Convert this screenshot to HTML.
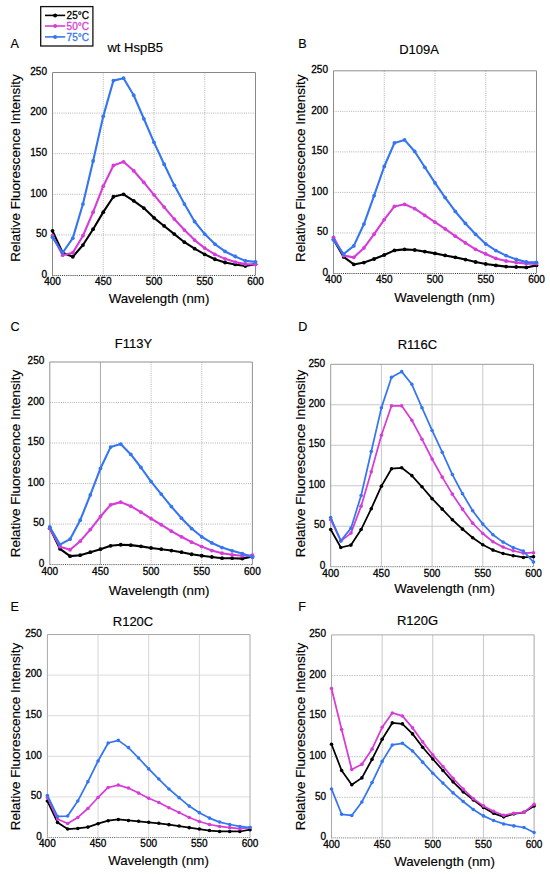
<!DOCTYPE html>
<html><head><meta charset="utf-8"><title>Fluorescence spectra</title>
<style>
html,body{margin:0;padding:0;background:#fff;}
body{width:550px;height:874px;overflow:hidden;}
svg{display:block;font-family:"Liberation Sans", sans-serif;}
text{stroke:#000;stroke-width:0.15px;}
.t{stroke-width:0.3px;}
.lk,.lp,.lb{stroke-width:0.3px;}
.lp{stroke:#d63cd8;}
.lb{stroke:#3576f0;}
</style></head><body>
<svg width="550" height="874" viewBox="0 0 550 874" fill="#000">
<rect width="550" height="874" fill="#fff"/>
<line x1="52.5" y1="234.9" x2="255.5" y2="234.9" stroke="#a8a8a8" stroke-width="0.9" stroke-dasharray="1 1.2"/>
<line x1="52.5" y1="194.3" x2="255.5" y2="194.3" stroke="#a8a8a8" stroke-width="0.9" stroke-dasharray="1 1.2"/>
<line x1="52.5" y1="153.7" x2="255.5" y2="153.7" stroke="#a8a8a8" stroke-width="0.9" stroke-dasharray="1 1.2"/>
<line x1="52.5" y1="113.1" x2="255.5" y2="113.1" stroke="#a8a8a8" stroke-width="0.9" stroke-dasharray="1 1.2"/>
<line x1="103.25" y1="72.5" x2="103.25" y2="275.5" stroke="#a8a8a8" stroke-width="0.9" stroke-dasharray="1 1.2"/>
<line x1="154" y1="72.5" x2="154" y2="275.5" stroke="#a8a8a8" stroke-width="0.9" stroke-dasharray="1 1.2"/>
<line x1="204.75" y1="72.5" x2="204.75" y2="275.5" stroke="#a8a8a8" stroke-width="0.9" stroke-dasharray="1 1.2"/>
<path d="M52.5 275.5V72.5H255.5V275.5" fill="none" stroke="#888" stroke-width="1"/>
<line x1="52.5" y1="275.5" x2="255.5" y2="275.5" stroke="#444" stroke-width="1" stroke-dasharray="1 0.9"/>
<polyline points="52.5,230.84 62.65,252.76 72.8,256.82 82.95,245.05 93.1,229.22 103.25,212.16 113.4,196.74 123.55,194.3 133.7,200.8 143.85,208.1 154,217.85 164.15,225.97 174.3,234.09 184.45,242.21 194.6,248.7 204.75,254.39 214.9,259.26 225.05,262.51 235.2,264.46 245.35,266.08 255.5,264.13" fill="none" stroke="#000000" stroke-width="2.1" stroke-linejoin="round"/>
<circle cx="52.5" cy="230.84" r="1.9" fill="#000000"/>
<circle cx="62.65" cy="252.76" r="1.9" fill="#000000"/>
<circle cx="72.8" cy="256.82" r="1.9" fill="#000000"/>
<circle cx="82.95" cy="245.05" r="1.9" fill="#000000"/>
<circle cx="93.1" cy="229.22" r="1.9" fill="#000000"/>
<circle cx="103.25" cy="212.16" r="1.9" fill="#000000"/>
<circle cx="113.4" cy="196.74" r="1.9" fill="#000000"/>
<circle cx="123.55" cy="194.3" r="1.9" fill="#000000"/>
<circle cx="133.7" cy="200.8" r="1.9" fill="#000000"/>
<circle cx="143.85" cy="208.1" r="1.9" fill="#000000"/>
<circle cx="154" cy="217.85" r="1.9" fill="#000000"/>
<circle cx="164.15" cy="225.97" r="1.9" fill="#000000"/>
<circle cx="174.3" cy="234.09" r="1.9" fill="#000000"/>
<circle cx="184.45" cy="242.21" r="1.9" fill="#000000"/>
<circle cx="194.6" cy="248.7" r="1.9" fill="#000000"/>
<circle cx="204.75" cy="254.39" r="1.9" fill="#000000"/>
<circle cx="214.9" cy="259.26" r="1.9" fill="#000000"/>
<circle cx="225.05" cy="262.51" r="1.9" fill="#000000"/>
<circle cx="235.2" cy="264.46" r="1.9" fill="#000000"/>
<circle cx="245.35" cy="266.08" r="1.9" fill="#000000"/>
<circle cx="255.5" cy="264.13" r="1.9" fill="#000000"/>
<polyline points="52.5,235.71 62.65,255.2 72.8,252.76 82.95,235.71 93.1,212.16 103.25,186.18 113.4,165.47 123.55,161.82 133.7,170.75 143.85,182.44 154,194.87 164.15,207.05 174.3,219.07 184.45,230.03 194.6,240.1 204.75,248.05 214.9,254.39 225.05,258.85 235.2,262.1 245.35,264.13 255.5,264.46" fill="none" stroke="#d63cd8" stroke-width="2.1" stroke-linejoin="round"/>
<circle cx="52.5" cy="235.71" r="1.9" fill="#d63cd8"/>
<circle cx="62.65" cy="255.2" r="1.9" fill="#d63cd8"/>
<circle cx="72.8" cy="252.76" r="1.9" fill="#d63cd8"/>
<circle cx="82.95" cy="235.71" r="1.9" fill="#d63cd8"/>
<circle cx="93.1" cy="212.16" r="1.9" fill="#d63cd8"/>
<circle cx="103.25" cy="186.18" r="1.9" fill="#d63cd8"/>
<circle cx="113.4" cy="165.47" r="1.9" fill="#d63cd8"/>
<circle cx="123.55" cy="161.82" r="1.9" fill="#d63cd8"/>
<circle cx="133.7" cy="170.75" r="1.9" fill="#d63cd8"/>
<circle cx="143.85" cy="182.44" r="1.9" fill="#d63cd8"/>
<circle cx="154" cy="194.87" r="1.9" fill="#d63cd8"/>
<circle cx="164.15" cy="207.05" r="1.9" fill="#d63cd8"/>
<circle cx="174.3" cy="219.07" r="1.9" fill="#d63cd8"/>
<circle cx="184.45" cy="230.03" r="1.9" fill="#d63cd8"/>
<circle cx="194.6" cy="240.1" r="1.9" fill="#d63cd8"/>
<circle cx="204.75" cy="248.05" r="1.9" fill="#d63cd8"/>
<circle cx="214.9" cy="254.39" r="1.9" fill="#d63cd8"/>
<circle cx="225.05" cy="258.85" r="1.9" fill="#d63cd8"/>
<circle cx="235.2" cy="262.1" r="1.9" fill="#d63cd8"/>
<circle cx="245.35" cy="264.13" r="1.9" fill="#d63cd8"/>
<circle cx="255.5" cy="264.46" r="1.9" fill="#d63cd8"/>
<polyline points="52.5,237.34 62.65,252.76 72.8,238.15 82.95,204.04 93.1,161.01 103.25,116.35 113.4,80.62 123.55,78.18 133.7,95.24 143.85,118.78 154,142.33 164.15,164.26 174.3,185.37 184.45,204.04 194.6,221.5 204.75,234.09 214.9,244.08 225.05,251.46 235.2,256.5 245.35,260.88 255.5,261.86" fill="none" stroke="#3576f0" stroke-width="2.1" stroke-linejoin="round"/>
<circle cx="52.5" cy="237.34" r="1.9" fill="#3576f0"/>
<circle cx="62.65" cy="252.76" r="1.9" fill="#3576f0"/>
<circle cx="72.8" cy="238.15" r="1.9" fill="#3576f0"/>
<circle cx="82.95" cy="204.04" r="1.9" fill="#3576f0"/>
<circle cx="93.1" cy="161.01" r="1.9" fill="#3576f0"/>
<circle cx="103.25" cy="116.35" r="1.9" fill="#3576f0"/>
<circle cx="113.4" cy="80.62" r="1.9" fill="#3576f0"/>
<circle cx="123.55" cy="78.18" r="1.9" fill="#3576f0"/>
<circle cx="133.7" cy="95.24" r="1.9" fill="#3576f0"/>
<circle cx="143.85" cy="118.78" r="1.9" fill="#3576f0"/>
<circle cx="154" cy="142.33" r="1.9" fill="#3576f0"/>
<circle cx="164.15" cy="164.26" r="1.9" fill="#3576f0"/>
<circle cx="174.3" cy="185.37" r="1.9" fill="#3576f0"/>
<circle cx="184.45" cy="204.04" r="1.9" fill="#3576f0"/>
<circle cx="194.6" cy="221.5" r="1.9" fill="#3576f0"/>
<circle cx="204.75" cy="234.09" r="1.9" fill="#3576f0"/>
<circle cx="214.9" cy="244.08" r="1.9" fill="#3576f0"/>
<circle cx="225.05" cy="251.46" r="1.9" fill="#3576f0"/>
<circle cx="235.2" cy="256.5" r="1.9" fill="#3576f0"/>
<circle cx="245.35" cy="260.88" r="1.9" fill="#3576f0"/>
<circle cx="255.5" cy="261.86" r="1.9" fill="#3576f0"/>
<text x="47" y="277.7" class="t" text-anchor="end" font-size="10">0</text>
<text x="47" y="237.1" class="t" text-anchor="end" font-size="10">50</text>
<text x="47" y="196.5" class="t" text-anchor="end" font-size="10">100</text>
<text x="47" y="155.9" class="t" text-anchor="end" font-size="10">150</text>
<text x="47" y="115.3" class="t" text-anchor="end" font-size="10">200</text>
<text x="47" y="74.7" class="t" text-anchor="end" font-size="10">250</text>
<text x="52.5" y="285.3" class="t" text-anchor="middle" font-size="10">400</text>
<text x="103.25" y="285.3" class="t" text-anchor="middle" font-size="10">450</text>
<text x="154" y="285.3" class="t" text-anchor="middle" font-size="10">500</text>
<text x="204.75" y="285.3" class="t" text-anchor="middle" font-size="10">550</text>
<text x="255.5" y="285.3" class="t" text-anchor="middle" font-size="10">600</text>
<text transform="translate(20.1,168) rotate(-90)" text-anchor="middle" font-size="13.5">Relative Fluorescence Intensity</text>
<text x="159" y="303.2" text-anchor="middle" font-size="13.3">Wavelength (nm)</text>
<text x="135.3" y="52.4" text-anchor="middle" font-size="13">wt HspB5</text>
<text x="10.6" y="47.9" font-size="12.6">A</text>
<line x1="333.5" y1="232.96" x2="536.5" y2="232.96" stroke="#a8a8a8" stroke-width="0.9" stroke-dasharray="1 1.2"/>
<line x1="333.5" y1="192.42" x2="536.5" y2="192.42" stroke="#a8a8a8" stroke-width="0.9" stroke-dasharray="1 1.2"/>
<line x1="333.5" y1="151.88" x2="536.5" y2="151.88" stroke="#a8a8a8" stroke-width="0.9" stroke-dasharray="1 1.2"/>
<line x1="333.5" y1="111.34" x2="536.5" y2="111.34" stroke="#a8a8a8" stroke-width="0.9" stroke-dasharray="1 1.2"/>
<line x1="384.25" y1="70.8" x2="384.25" y2="273.5" stroke="#a8a8a8" stroke-width="0.9" stroke-dasharray="1 1.2"/>
<line x1="435" y1="70.8" x2="435" y2="273.5" stroke="#a8a8a8" stroke-width="0.9" stroke-dasharray="1 1.2"/>
<line x1="485.75" y1="70.8" x2="485.75" y2="273.5" stroke="#a8a8a8" stroke-width="0.9" stroke-dasharray="1 1.2"/>
<path d="M333.5 273.5V70.8H536.5V273.5" fill="none" stroke="#8c8c8c" stroke-width="1"/>
<line x1="333.5" y1="273.5" x2="536.5" y2="273.5" stroke="#444" stroke-width="1" stroke-dasharray="1 0.9"/>
<polyline points="333.5,239.45 343.65,256.96 353.8,264.42 363.95,262.55 374.1,258.99 384.25,255.01 394.4,250.39 404.55,249.34 414.7,249.99 424.85,251.61 435,253.39 445.15,255.42 455.3,257.37 465.45,259.55 475.6,261.99 485.75,264.01 495.9,265.39 506.05,266.61 516.2,267.01 526.35,267.42 536.5,265.39" fill="none" stroke="#000000" stroke-width="2.1" stroke-linejoin="round"/>
<circle cx="333.5" cy="239.45" r="1.9" fill="#000000"/>
<circle cx="343.65" cy="256.96" r="1.9" fill="#000000"/>
<circle cx="353.8" cy="264.42" r="1.9" fill="#000000"/>
<circle cx="363.95" cy="262.55" r="1.9" fill="#000000"/>
<circle cx="374.1" cy="258.99" r="1.9" fill="#000000"/>
<circle cx="384.25" cy="255.01" r="1.9" fill="#000000"/>
<circle cx="394.4" cy="250.39" r="1.9" fill="#000000"/>
<circle cx="404.55" cy="249.34" r="1.9" fill="#000000"/>
<circle cx="414.7" cy="249.99" r="1.9" fill="#000000"/>
<circle cx="424.85" cy="251.61" r="1.9" fill="#000000"/>
<circle cx="435" cy="253.39" r="1.9" fill="#000000"/>
<circle cx="445.15" cy="255.42" r="1.9" fill="#000000"/>
<circle cx="455.3" cy="257.37" r="1.9" fill="#000000"/>
<circle cx="465.45" cy="259.55" r="1.9" fill="#000000"/>
<circle cx="475.6" cy="261.99" r="1.9" fill="#000000"/>
<circle cx="485.75" cy="264.01" r="1.9" fill="#000000"/>
<circle cx="495.9" cy="265.39" r="1.9" fill="#000000"/>
<circle cx="506.05" cy="266.61" r="1.9" fill="#000000"/>
<circle cx="516.2" cy="267.01" r="1.9" fill="#000000"/>
<circle cx="526.35" cy="267.42" r="1.9" fill="#000000"/>
<circle cx="536.5" cy="265.39" r="1.9" fill="#000000"/>
<polyline points="333.5,237.34 343.65,255.66 353.8,257.37 363.95,247.96 374.1,234.18 384.25,219.58 394.4,206.45 404.55,204.34 414.7,208.64 424.85,215.45 435,222.18 445.15,228.91 455.3,236.2 465.45,242.93 475.6,249.34 485.75,253.96 495.9,258.42 506.05,261.01 516.2,262.55 526.35,263.61 536.5,263.61" fill="none" stroke="#d63cd8" stroke-width="2.1" stroke-linejoin="round"/>
<circle cx="333.5" cy="237.34" r="1.9" fill="#d63cd8"/>
<circle cx="343.65" cy="255.66" r="1.9" fill="#d63cd8"/>
<circle cx="353.8" cy="257.37" r="1.9" fill="#d63cd8"/>
<circle cx="363.95" cy="247.96" r="1.9" fill="#d63cd8"/>
<circle cx="374.1" cy="234.18" r="1.9" fill="#d63cd8"/>
<circle cx="384.25" cy="219.58" r="1.9" fill="#d63cd8"/>
<circle cx="394.4" cy="206.45" r="1.9" fill="#d63cd8"/>
<circle cx="404.55" cy="204.34" r="1.9" fill="#d63cd8"/>
<circle cx="414.7" cy="208.64" r="1.9" fill="#d63cd8"/>
<circle cx="424.85" cy="215.45" r="1.9" fill="#d63cd8"/>
<circle cx="435" cy="222.18" r="1.9" fill="#d63cd8"/>
<circle cx="445.15" cy="228.91" r="1.9" fill="#d63cd8"/>
<circle cx="455.3" cy="236.2" r="1.9" fill="#d63cd8"/>
<circle cx="465.45" cy="242.93" r="1.9" fill="#d63cd8"/>
<circle cx="475.6" cy="249.34" r="1.9" fill="#d63cd8"/>
<circle cx="485.75" cy="253.96" r="1.9" fill="#d63cd8"/>
<circle cx="495.9" cy="258.42" r="1.9" fill="#d63cd8"/>
<circle cx="506.05" cy="261.01" r="1.9" fill="#d63cd8"/>
<circle cx="516.2" cy="262.55" r="1.9" fill="#d63cd8"/>
<circle cx="526.35" cy="263.61" r="1.9" fill="#d63cd8"/>
<circle cx="536.5" cy="263.61" r="1.9" fill="#d63cd8"/>
<polyline points="333.5,239.93 343.65,254.04 353.8,245.93 363.95,224.04 374.1,195.66 384.25,166.47 394.4,142.96 404.55,139.88 414.7,151.47 424.85,167.29 435,182.93 445.15,197.53 455.3,211.47 465.45,223.47 475.6,234.34 485.75,243.99 495.9,250.55 506.05,255.58 516.2,259.39 526.35,261.99 536.5,262.39" fill="none" stroke="#3576f0" stroke-width="2.1" stroke-linejoin="round"/>
<circle cx="333.5" cy="239.93" r="1.9" fill="#3576f0"/>
<circle cx="343.65" cy="254.04" r="1.9" fill="#3576f0"/>
<circle cx="353.8" cy="245.93" r="1.9" fill="#3576f0"/>
<circle cx="363.95" cy="224.04" r="1.9" fill="#3576f0"/>
<circle cx="374.1" cy="195.66" r="1.9" fill="#3576f0"/>
<circle cx="384.25" cy="166.47" r="1.9" fill="#3576f0"/>
<circle cx="394.4" cy="142.96" r="1.9" fill="#3576f0"/>
<circle cx="404.55" cy="139.88" r="1.9" fill="#3576f0"/>
<circle cx="414.7" cy="151.47" r="1.9" fill="#3576f0"/>
<circle cx="424.85" cy="167.29" r="1.9" fill="#3576f0"/>
<circle cx="435" cy="182.93" r="1.9" fill="#3576f0"/>
<circle cx="445.15" cy="197.53" r="1.9" fill="#3576f0"/>
<circle cx="455.3" cy="211.47" r="1.9" fill="#3576f0"/>
<circle cx="465.45" cy="223.47" r="1.9" fill="#3576f0"/>
<circle cx="475.6" cy="234.34" r="1.9" fill="#3576f0"/>
<circle cx="485.75" cy="243.99" r="1.9" fill="#3576f0"/>
<circle cx="495.9" cy="250.55" r="1.9" fill="#3576f0"/>
<circle cx="506.05" cy="255.58" r="1.9" fill="#3576f0"/>
<circle cx="516.2" cy="259.39" r="1.9" fill="#3576f0"/>
<circle cx="526.35" cy="261.99" r="1.9" fill="#3576f0"/>
<circle cx="536.5" cy="262.39" r="1.9" fill="#3576f0"/>
<text x="328" y="275.7" class="t" text-anchor="end" font-size="10">0</text>
<text x="328" y="235.16" class="t" text-anchor="end" font-size="10">50</text>
<text x="328" y="194.62" class="t" text-anchor="end" font-size="10">100</text>
<text x="328" y="154.08" class="t" text-anchor="end" font-size="10">150</text>
<text x="328" y="113.54" class="t" text-anchor="end" font-size="10">200</text>
<text x="328" y="73" class="t" text-anchor="end" font-size="10">250</text>
<text x="333.5" y="283.2" class="t" text-anchor="middle" font-size="10">400</text>
<text x="384.25" y="283.2" class="t" text-anchor="middle" font-size="10">450</text>
<text x="435" y="283.2" class="t" text-anchor="middle" font-size="10">500</text>
<text x="485.75" y="283.2" class="t" text-anchor="middle" font-size="10">550</text>
<text x="536.5" y="283.2" class="t" text-anchor="middle" font-size="10">600</text>
<text transform="translate(304.6,168.3) rotate(-90)" text-anchor="middle" font-size="13.5">Relative Fluorescence Intensity</text>
<text x="444.5" y="302" text-anchor="middle" font-size="13.3">Wavelength (nm)</text>
<text x="419" y="54.4" text-anchor="middle" font-size="13">D109A</text>
<text x="298.2" y="47.8" font-size="12.6">B</text>
<line x1="49.8" y1="524.08" x2="252.4" y2="524.08" stroke="#a8a8a8" stroke-width="0.9" stroke-dasharray="1 1.2"/>
<line x1="49.8" y1="483.56" x2="252.4" y2="483.56" stroke="#a8a8a8" stroke-width="0.9" stroke-dasharray="1 1.2"/>
<line x1="49.8" y1="443.04" x2="252.4" y2="443.04" stroke="#a8a8a8" stroke-width="0.9" stroke-dasharray="1 1.2"/>
<line x1="49.8" y1="402.52" x2="252.4" y2="402.52" stroke="#a8a8a8" stroke-width="0.9" stroke-dasharray="1 1.2"/>
<line x1="100.45" y1="362" x2="100.45" y2="564.6" stroke="#a8a8a8" stroke-width="1"/>
<line x1="151.1" y1="362" x2="151.1" y2="564.6" stroke="#a8a8a8" stroke-width="0.9" stroke-dasharray="1 1.2"/>
<line x1="201.75" y1="362" x2="201.75" y2="564.6" stroke="#a8a8a8" stroke-width="0.9" stroke-dasharray="1 1.2"/>
<path d="M49.8 564.6V362H252.4V564.6" fill="none" stroke="#909090" stroke-width="1"/>
<line x1="49.8" y1="564.6" x2="252.4" y2="564.6" stroke="#555" stroke-width="1" stroke-dasharray="1 0.9"/>
<polyline points="49.8,528.13 59.93,548.8 70.06,556.17 80.19,555.2 90.32,552.2 100.45,549.2 110.58,545.8 120.71,544.75 130.84,545.15 140.97,546.37 151.1,547.99 161.23,549.2 171.36,550.58 181.49,552.2 191.62,554.23 201.75,555.77 211.88,556.98 222.01,558.2 232.14,558.2 242.27,558.6 252.4,556.58" fill="none" stroke="#000000" stroke-width="2.1" stroke-linejoin="round"/>
<circle cx="49.8" cy="528.13" r="1.9" fill="#000000"/>
<circle cx="59.93" cy="548.8" r="1.9" fill="#000000"/>
<circle cx="70.06" cy="556.17" r="1.9" fill="#000000"/>
<circle cx="80.19" cy="555.2" r="1.9" fill="#000000"/>
<circle cx="90.32" cy="552.2" r="1.9" fill="#000000"/>
<circle cx="100.45" cy="549.2" r="1.9" fill="#000000"/>
<circle cx="110.58" cy="545.8" r="1.9" fill="#000000"/>
<circle cx="120.71" cy="544.75" r="1.9" fill="#000000"/>
<circle cx="130.84" cy="545.15" r="1.9" fill="#000000"/>
<circle cx="140.97" cy="546.37" r="1.9" fill="#000000"/>
<circle cx="151.1" cy="547.99" r="1.9" fill="#000000"/>
<circle cx="161.23" cy="549.2" r="1.9" fill="#000000"/>
<circle cx="171.36" cy="550.58" r="1.9" fill="#000000"/>
<circle cx="181.49" cy="552.2" r="1.9" fill="#000000"/>
<circle cx="191.62" cy="554.23" r="1.9" fill="#000000"/>
<circle cx="201.75" cy="555.77" r="1.9" fill="#000000"/>
<circle cx="211.88" cy="556.98" r="1.9" fill="#000000"/>
<circle cx="222.01" cy="558.2" r="1.9" fill="#000000"/>
<circle cx="232.14" cy="558.2" r="1.9" fill="#000000"/>
<circle cx="242.27" cy="558.6" r="1.9" fill="#000000"/>
<circle cx="252.4" cy="556.58" r="1.9" fill="#000000"/>
<polyline points="49.8,528.13 59.93,546.77 70.06,549.77 80.19,541.18 90.32,529.59 100.45,516.54 110.58,504.87 120.71,502.12 130.84,506.17 140.97,512.17 151.1,518.65 161.23,524.73 171.36,531.13 181.49,536.8 191.62,542.15 201.75,546.61 211.88,550.58 222.01,553.17 232.14,554.79 242.27,555.77 252.4,555.2" fill="none" stroke="#d63cd8" stroke-width="2.1" stroke-linejoin="round"/>
<circle cx="49.8" cy="528.13" r="1.9" fill="#d63cd8"/>
<circle cx="59.93" cy="546.77" r="1.9" fill="#d63cd8"/>
<circle cx="70.06" cy="549.77" r="1.9" fill="#d63cd8"/>
<circle cx="80.19" cy="541.18" r="1.9" fill="#d63cd8"/>
<circle cx="90.32" cy="529.59" r="1.9" fill="#d63cd8"/>
<circle cx="100.45" cy="516.54" r="1.9" fill="#d63cd8"/>
<circle cx="110.58" cy="504.87" r="1.9" fill="#d63cd8"/>
<circle cx="120.71" cy="502.12" r="1.9" fill="#d63cd8"/>
<circle cx="130.84" cy="506.17" r="1.9" fill="#d63cd8"/>
<circle cx="140.97" cy="512.17" r="1.9" fill="#d63cd8"/>
<circle cx="151.1" cy="518.65" r="1.9" fill="#d63cd8"/>
<circle cx="161.23" cy="524.73" r="1.9" fill="#d63cd8"/>
<circle cx="171.36" cy="531.13" r="1.9" fill="#d63cd8"/>
<circle cx="181.49" cy="536.8" r="1.9" fill="#d63cd8"/>
<circle cx="191.62" cy="542.15" r="1.9" fill="#d63cd8"/>
<circle cx="201.75" cy="546.61" r="1.9" fill="#d63cd8"/>
<circle cx="211.88" cy="550.58" r="1.9" fill="#d63cd8"/>
<circle cx="222.01" cy="553.17" r="1.9" fill="#d63cd8"/>
<circle cx="232.14" cy="554.79" r="1.9" fill="#d63cd8"/>
<circle cx="242.27" cy="555.77" r="1.9" fill="#d63cd8"/>
<circle cx="252.4" cy="555.2" r="1.9" fill="#d63cd8"/>
<polyline points="49.8,526.92 59.93,544.58 70.06,539.15 80.19,520.19 90.32,494.91 100.45,468.49 110.58,447.09 120.71,444.09 130.84,454.47 140.97,467.51 151.1,481.62 161.23,494.1 171.36,506.58 181.49,518.16 191.62,528.54 201.75,536.8 211.88,542.96 222.01,547.58 232.14,550.82 242.27,553.58 252.4,557.23" fill="none" stroke="#3576f0" stroke-width="2.1" stroke-linejoin="round"/>
<circle cx="49.8" cy="526.92" r="1.9" fill="#3576f0"/>
<circle cx="59.93" cy="544.58" r="1.9" fill="#3576f0"/>
<circle cx="70.06" cy="539.15" r="1.9" fill="#3576f0"/>
<circle cx="80.19" cy="520.19" r="1.9" fill="#3576f0"/>
<circle cx="90.32" cy="494.91" r="1.9" fill="#3576f0"/>
<circle cx="100.45" cy="468.49" r="1.9" fill="#3576f0"/>
<circle cx="110.58" cy="447.09" r="1.9" fill="#3576f0"/>
<circle cx="120.71" cy="444.09" r="1.9" fill="#3576f0"/>
<circle cx="130.84" cy="454.47" r="1.9" fill="#3576f0"/>
<circle cx="140.97" cy="467.51" r="1.9" fill="#3576f0"/>
<circle cx="151.1" cy="481.62" r="1.9" fill="#3576f0"/>
<circle cx="161.23" cy="494.1" r="1.9" fill="#3576f0"/>
<circle cx="171.36" cy="506.58" r="1.9" fill="#3576f0"/>
<circle cx="181.49" cy="518.16" r="1.9" fill="#3576f0"/>
<circle cx="191.62" cy="528.54" r="1.9" fill="#3576f0"/>
<circle cx="201.75" cy="536.8" r="1.9" fill="#3576f0"/>
<circle cx="211.88" cy="542.96" r="1.9" fill="#3576f0"/>
<circle cx="222.01" cy="547.58" r="1.9" fill="#3576f0"/>
<circle cx="232.14" cy="550.82" r="1.9" fill="#3576f0"/>
<circle cx="242.27" cy="553.58" r="1.9" fill="#3576f0"/>
<circle cx="252.4" cy="557.23" r="1.9" fill="#3576f0"/>
<text x="44.3" y="566.8" class="t" text-anchor="end" font-size="10">0</text>
<text x="44.3" y="526.28" class="t" text-anchor="end" font-size="10">50</text>
<text x="44.3" y="485.76" class="t" text-anchor="end" font-size="10">100</text>
<text x="44.3" y="445.24" class="t" text-anchor="end" font-size="10">150</text>
<text x="44.3" y="404.72" class="t" text-anchor="end" font-size="10">200</text>
<text x="44.3" y="364.2" class="t" text-anchor="end" font-size="10">250</text>
<text x="49.8" y="574.5" class="t" text-anchor="middle" font-size="10">400</text>
<text x="100.45" y="574.5" class="t" text-anchor="middle" font-size="10">450</text>
<text x="151.1" y="574.5" class="t" text-anchor="middle" font-size="10">500</text>
<text x="201.75" y="574.5" class="t" text-anchor="middle" font-size="10">550</text>
<text x="252.4" y="574.5" class="t" text-anchor="middle" font-size="10">600</text>
<text transform="translate(19.6,463.5) rotate(-90)" text-anchor="middle" font-size="13.5">Relative Fluorescence Intensity</text>
<text x="159.1" y="594.5" text-anchor="middle" font-size="13.3">Wavelength (nm)</text>
<text x="133.5" y="347.7" text-anchor="middle" font-size="13">F113Y</text>
<text x="10.6" y="330.8" font-size="12.6">C</text>
<line x1="330.7" y1="526.22" x2="533.5" y2="526.22" stroke="#c8c8c8" stroke-width="1"/>
<line x1="330.7" y1="485.74" x2="533.5" y2="485.74" stroke="#c8c8c8" stroke-width="1"/>
<line x1="330.7" y1="445.26" x2="533.5" y2="445.26" stroke="#c8c8c8" stroke-width="1"/>
<line x1="330.7" y1="404.78" x2="533.5" y2="404.78" stroke="#c8c8c8" stroke-width="1"/>
<line x1="381.4" y1="364.3" x2="381.4" y2="566.7" stroke="#c8c8c8" stroke-width="1"/>
<line x1="432.1" y1="364.3" x2="432.1" y2="566.7" stroke="#c8c8c8" stroke-width="1"/>
<line x1="482.8" y1="364.3" x2="482.8" y2="566.7" stroke="#c8c8c8" stroke-width="1"/>
<path d="M330.7 566.7V364.3H533.5V566.7" fill="none" stroke="#999" stroke-width="1"/>
<line x1="330.7" y1="566.7" x2="533.5" y2="566.7" stroke="#666" stroke-width="1" stroke-dasharray="1 0.9"/>
<polyline points="330.7,529.54 340.84,547.51 350.98,545.08 361.12,529.54 371.26,508.73 381.4,486.14 391.54,468.74 401.68,467.77 411.82,475.62 421.96,486.79 432.1,498.69 442.24,509.14 452.38,519.74 462.52,529.13 472.66,537.72 482.8,544.76 492.94,550.1 503.08,553.5 513.22,555.69 523.36,557.47 533.5,556.74" fill="none" stroke="#000000" stroke-width="1.75" stroke-linejoin="round"/>
<circle cx="330.7" cy="529.54" r="1.8" fill="#000000"/>
<circle cx="340.84" cy="547.51" r="1.8" fill="#000000"/>
<circle cx="350.98" cy="545.08" r="1.8" fill="#000000"/>
<circle cx="361.12" cy="529.54" r="1.8" fill="#000000"/>
<circle cx="371.26" cy="508.73" r="1.8" fill="#000000"/>
<circle cx="381.4" cy="486.14" r="1.8" fill="#000000"/>
<circle cx="391.54" cy="468.74" r="1.8" fill="#000000"/>
<circle cx="401.68" cy="467.77" r="1.8" fill="#000000"/>
<circle cx="411.82" cy="475.62" r="1.8" fill="#000000"/>
<circle cx="421.96" cy="486.79" r="1.8" fill="#000000"/>
<circle cx="432.1" cy="498.69" r="1.8" fill="#000000"/>
<circle cx="442.24" cy="509.14" r="1.8" fill="#000000"/>
<circle cx="452.38" cy="519.74" r="1.8" fill="#000000"/>
<circle cx="462.52" cy="529.13" r="1.8" fill="#000000"/>
<circle cx="472.66" cy="537.72" r="1.8" fill="#000000"/>
<circle cx="482.8" cy="544.76" r="1.8" fill="#000000"/>
<circle cx="492.94" cy="550.1" r="1.8" fill="#000000"/>
<circle cx="503.08" cy="553.5" r="1.8" fill="#000000"/>
<circle cx="513.22" cy="555.69" r="1.8" fill="#000000"/>
<circle cx="523.36" cy="557.47" r="1.8" fill="#000000"/>
<circle cx="533.5" cy="556.74" r="1.8" fill="#000000"/>
<polyline points="330.7,519.74 340.84,541.12 350.98,533.1 361.12,506.14 371.26,471.81 381.4,435.22 391.54,405.83 401.68,405.83 411.82,420.24 421.96,439.19 432.1,459.02 442.24,477.16 452.38,494.16 462.52,509.14 472.66,523.14 482.8,533.51 492.94,541.76 503.08,547.11 513.22,550.75 523.36,553.1 533.5,552.69" fill="none" stroke="#d63cd8" stroke-width="1.75" stroke-linejoin="round"/>
<circle cx="330.7" cy="519.74" r="1.8" fill="#d63cd8"/>
<circle cx="340.84" cy="541.12" r="1.8" fill="#d63cd8"/>
<circle cx="350.98" cy="533.1" r="1.8" fill="#d63cd8"/>
<circle cx="361.12" cy="506.14" r="1.8" fill="#d63cd8"/>
<circle cx="371.26" cy="471.81" r="1.8" fill="#d63cd8"/>
<circle cx="381.4" cy="435.22" r="1.8" fill="#d63cd8"/>
<circle cx="391.54" cy="405.83" r="1.8" fill="#d63cd8"/>
<circle cx="401.68" cy="405.83" r="1.8" fill="#d63cd8"/>
<circle cx="411.82" cy="420.24" r="1.8" fill="#d63cd8"/>
<circle cx="421.96" cy="439.19" r="1.8" fill="#d63cd8"/>
<circle cx="432.1" cy="459.02" r="1.8" fill="#d63cd8"/>
<circle cx="442.24" cy="477.16" r="1.8" fill="#d63cd8"/>
<circle cx="452.38" cy="494.16" r="1.8" fill="#d63cd8"/>
<circle cx="462.52" cy="509.14" r="1.8" fill="#d63cd8"/>
<circle cx="472.66" cy="523.14" r="1.8" fill="#d63cd8"/>
<circle cx="482.8" cy="533.51" r="1.8" fill="#d63cd8"/>
<circle cx="492.94" cy="541.76" r="1.8" fill="#d63cd8"/>
<circle cx="503.08" cy="547.11" r="1.8" fill="#d63cd8"/>
<circle cx="513.22" cy="550.75" r="1.8" fill="#d63cd8"/>
<circle cx="523.36" cy="553.1" r="1.8" fill="#d63cd8"/>
<circle cx="533.5" cy="552.69" r="1.8" fill="#d63cd8"/>
<polyline points="330.7,517.56 340.84,540.71 350.98,528.16 361.12,495.54 371.26,451.57 381.4,407.86 391.54,377.25 401.68,371.67 411.82,384.3 421.96,407.69 432.1,430.44 442.24,452.22 452.38,474.57 462.52,493.76 472.66,510.76 482.8,524.12 492.94,534.72 503.08,542.09 513.22,547.51 523.36,551.07 533.5,562.09" fill="none" stroke="#3576f0" stroke-width="1.75" stroke-linejoin="round"/>
<circle cx="330.7" cy="517.56" r="1.8" fill="#3576f0"/>
<circle cx="340.84" cy="540.71" r="1.8" fill="#3576f0"/>
<circle cx="350.98" cy="528.16" r="1.8" fill="#3576f0"/>
<circle cx="361.12" cy="495.54" r="1.8" fill="#3576f0"/>
<circle cx="371.26" cy="451.57" r="1.8" fill="#3576f0"/>
<circle cx="381.4" cy="407.86" r="1.8" fill="#3576f0"/>
<circle cx="391.54" cy="377.25" r="1.8" fill="#3576f0"/>
<circle cx="401.68" cy="371.67" r="1.8" fill="#3576f0"/>
<circle cx="411.82" cy="384.3" r="1.8" fill="#3576f0"/>
<circle cx="421.96" cy="407.69" r="1.8" fill="#3576f0"/>
<circle cx="432.1" cy="430.44" r="1.8" fill="#3576f0"/>
<circle cx="442.24" cy="452.22" r="1.8" fill="#3576f0"/>
<circle cx="452.38" cy="474.57" r="1.8" fill="#3576f0"/>
<circle cx="462.52" cy="493.76" r="1.8" fill="#3576f0"/>
<circle cx="472.66" cy="510.76" r="1.8" fill="#3576f0"/>
<circle cx="482.8" cy="524.12" r="1.8" fill="#3576f0"/>
<circle cx="492.94" cy="534.72" r="1.8" fill="#3576f0"/>
<circle cx="503.08" cy="542.09" r="1.8" fill="#3576f0"/>
<circle cx="513.22" cy="547.51" r="1.8" fill="#3576f0"/>
<circle cx="523.36" cy="551.07" r="1.8" fill="#3576f0"/>
<circle cx="533.5" cy="562.09" r="1.8" fill="#3576f0"/>
<text x="325.2" y="568.9" class="t" text-anchor="end" font-size="10">0</text>
<text x="325.2" y="528.42" class="t" text-anchor="end" font-size="10">50</text>
<text x="325.2" y="487.94" class="t" text-anchor="end" font-size="10">100</text>
<text x="325.2" y="447.46" class="t" text-anchor="end" font-size="10">150</text>
<text x="325.2" y="406.98" class="t" text-anchor="end" font-size="10">200</text>
<text x="325.2" y="366.5" class="t" text-anchor="end" font-size="10">250</text>
<text x="330.7" y="576.5" class="t" text-anchor="middle" font-size="10">400</text>
<text x="381.4" y="576.5" class="t" text-anchor="middle" font-size="10">450</text>
<text x="432.1" y="576.5" class="t" text-anchor="middle" font-size="10">500</text>
<text x="482.8" y="576.5" class="t" text-anchor="middle" font-size="10">550</text>
<text x="533.5" y="576.5" class="t" text-anchor="middle" font-size="10">600</text>
<text transform="translate(304.6,463.5) rotate(-90)" text-anchor="middle" font-size="13.5">Relative Fluorescence Intensity</text>
<text x="444.5" y="593.2" text-anchor="middle" font-size="13.3">Wavelength (nm)</text>
<text x="417.4" y="349.1" text-anchor="middle" font-size="13">R116C</text>
<text x="298.2" y="330.8" font-size="12.6">D</text>
<line x1="47.4" y1="796.9" x2="250" y2="796.9" stroke="#dcdcdc" stroke-width="1"/>
<line x1="47.4" y1="756.3" x2="250" y2="756.3" stroke="#dcdcdc" stroke-width="1"/>
<line x1="47.4" y1="715.7" x2="250" y2="715.7" stroke="#dcdcdc" stroke-width="1"/>
<line x1="47.4" y1="675.1" x2="250" y2="675.1" stroke="#dcdcdc" stroke-width="1"/>
<line x1="98.05" y1="634.5" x2="98.05" y2="837.5" stroke="#d6d6d6" stroke-width="1"/>
<line x1="148.7" y1="634.5" x2="148.7" y2="837.5" stroke="#d6d6d6" stroke-width="1"/>
<line x1="199.35" y1="634.5" x2="199.35" y2="837.5" stroke="#d6d6d6" stroke-width="1"/>
<path d="M47.4 837.5V634.5H250V837.5" fill="none" stroke="#a8a8a8" stroke-width="1"/>
<line x1="47.4" y1="837.5" x2="250" y2="837.5" stroke="#777" stroke-width="1" stroke-dasharray="1 0.9"/>
<polyline points="47.4,801.04 57.53,822.48 67.66,829.06 77.79,828.49 87.92,827.11 98.05,823.7 108.18,820.69 118.31,819.47 128.44,820.45 138.57,821.26 148.7,822.32 158.83,823.29 168.96,824.67 179.09,826.05 189.22,827.67 199.35,829.06 209.48,830.52 219.61,831.49 229.74,831.49 239.87,831.49 250,829.7" fill="none" stroke="#000000" stroke-width="1.75" stroke-linejoin="round"/>
<circle cx="47.4" cy="801.04" r="1.8" fill="#000000"/>
<circle cx="57.53" cy="822.48" r="1.8" fill="#000000"/>
<circle cx="67.66" cy="829.06" r="1.8" fill="#000000"/>
<circle cx="77.79" cy="828.49" r="1.8" fill="#000000"/>
<circle cx="87.92" cy="827.11" r="1.8" fill="#000000"/>
<circle cx="98.05" cy="823.7" r="1.8" fill="#000000"/>
<circle cx="108.18" cy="820.69" r="1.8" fill="#000000"/>
<circle cx="118.31" cy="819.47" r="1.8" fill="#000000"/>
<circle cx="128.44" cy="820.45" r="1.8" fill="#000000"/>
<circle cx="138.57" cy="821.26" r="1.8" fill="#000000"/>
<circle cx="148.7" cy="822.32" r="1.8" fill="#000000"/>
<circle cx="158.83" cy="823.29" r="1.8" fill="#000000"/>
<circle cx="168.96" cy="824.67" r="1.8" fill="#000000"/>
<circle cx="179.09" cy="826.05" r="1.8" fill="#000000"/>
<circle cx="189.22" cy="827.67" r="1.8" fill="#000000"/>
<circle cx="199.35" cy="829.06" r="1.8" fill="#000000"/>
<circle cx="209.48" cy="830.52" r="1.8" fill="#000000"/>
<circle cx="219.61" cy="831.49" r="1.8" fill="#000000"/>
<circle cx="229.74" cy="831.49" r="1.8" fill="#000000"/>
<circle cx="239.87" cy="831.49" r="1.8" fill="#000000"/>
<circle cx="250" cy="829.7" r="1.8" fill="#000000"/>
<polyline points="47.4,797.47 57.53,819.07 67.66,823.45 77.79,817.44 87.92,808.51 98.05,797.47 108.18,787.48 118.31,785.04 128.44,788.05 138.57,793.08 148.7,798.28 158.83,802.5 168.96,807.7 179.09,812.49 189.22,817.44 199.35,821.5 209.48,824.51 219.61,826.46 229.74,827.67 239.87,828.73 250,827.51" fill="none" stroke="#d63cd8" stroke-width="1.75" stroke-linejoin="round"/>
<circle cx="47.4" cy="797.47" r="1.8" fill="#d63cd8"/>
<circle cx="57.53" cy="819.07" r="1.8" fill="#d63cd8"/>
<circle cx="67.66" cy="823.45" r="1.8" fill="#d63cd8"/>
<circle cx="77.79" cy="817.44" r="1.8" fill="#d63cd8"/>
<circle cx="87.92" cy="808.51" r="1.8" fill="#d63cd8"/>
<circle cx="98.05" cy="797.47" r="1.8" fill="#d63cd8"/>
<circle cx="108.18" cy="787.48" r="1.8" fill="#d63cd8"/>
<circle cx="118.31" cy="785.04" r="1.8" fill="#d63cd8"/>
<circle cx="128.44" cy="788.05" r="1.8" fill="#d63cd8"/>
<circle cx="138.57" cy="793.08" r="1.8" fill="#d63cd8"/>
<circle cx="148.7" cy="798.28" r="1.8" fill="#d63cd8"/>
<circle cx="158.83" cy="802.5" r="1.8" fill="#d63cd8"/>
<circle cx="168.96" cy="807.7" r="1.8" fill="#d63cd8"/>
<circle cx="179.09" cy="812.49" r="1.8" fill="#d63cd8"/>
<circle cx="189.22" cy="817.44" r="1.8" fill="#d63cd8"/>
<circle cx="199.35" cy="821.5" r="1.8" fill="#d63cd8"/>
<circle cx="209.48" cy="824.51" r="1.8" fill="#d63cd8"/>
<circle cx="219.61" cy="826.46" r="1.8" fill="#d63cd8"/>
<circle cx="229.74" cy="827.67" r="1.8" fill="#d63cd8"/>
<circle cx="239.87" cy="828.73" r="1.8" fill="#d63cd8"/>
<circle cx="250" cy="827.51" r="1.8" fill="#d63cd8"/>
<polyline points="47.4,795.44 57.53,816.47 67.66,816.06 77.79,801.04 87.92,781.63 98.05,761.01 108.18,742.98 118.31,740.38 128.44,747.61 138.57,758.01 148.7,768.89 158.83,779.04 168.96,789.02 179.09,797.63 189.22,806.08 199.35,812.65 209.48,818.09 219.61,822.07 229.74,824.51 239.87,826.46 250,827.51" fill="none" stroke="#3576f0" stroke-width="1.75" stroke-linejoin="round"/>
<circle cx="47.4" cy="795.44" r="1.8" fill="#3576f0"/>
<circle cx="57.53" cy="816.47" r="1.8" fill="#3576f0"/>
<circle cx="67.66" cy="816.06" r="1.8" fill="#3576f0"/>
<circle cx="77.79" cy="801.04" r="1.8" fill="#3576f0"/>
<circle cx="87.92" cy="781.63" r="1.8" fill="#3576f0"/>
<circle cx="98.05" cy="761.01" r="1.8" fill="#3576f0"/>
<circle cx="108.18" cy="742.98" r="1.8" fill="#3576f0"/>
<circle cx="118.31" cy="740.38" r="1.8" fill="#3576f0"/>
<circle cx="128.44" cy="747.61" r="1.8" fill="#3576f0"/>
<circle cx="138.57" cy="758.01" r="1.8" fill="#3576f0"/>
<circle cx="148.7" cy="768.89" r="1.8" fill="#3576f0"/>
<circle cx="158.83" cy="779.04" r="1.8" fill="#3576f0"/>
<circle cx="168.96" cy="789.02" r="1.8" fill="#3576f0"/>
<circle cx="179.09" cy="797.63" r="1.8" fill="#3576f0"/>
<circle cx="189.22" cy="806.08" r="1.8" fill="#3576f0"/>
<circle cx="199.35" cy="812.65" r="1.8" fill="#3576f0"/>
<circle cx="209.48" cy="818.09" r="1.8" fill="#3576f0"/>
<circle cx="219.61" cy="822.07" r="1.8" fill="#3576f0"/>
<circle cx="229.74" cy="824.51" r="1.8" fill="#3576f0"/>
<circle cx="239.87" cy="826.46" r="1.8" fill="#3576f0"/>
<circle cx="250" cy="827.51" r="1.8" fill="#3576f0"/>
<text x="41.9" y="839.7" class="t" text-anchor="end" font-size="10">0</text>
<text x="41.9" y="799.1" class="t" text-anchor="end" font-size="10">50</text>
<text x="41.9" y="758.5" class="t" text-anchor="end" font-size="10">100</text>
<text x="41.9" y="717.9" class="t" text-anchor="end" font-size="10">150</text>
<text x="41.9" y="677.3" class="t" text-anchor="end" font-size="10">200</text>
<text x="41.9" y="636.7" class="t" text-anchor="end" font-size="10">250</text>
<text x="47.4" y="847.2" class="t" text-anchor="middle" font-size="10">400</text>
<text x="98.05" y="847.2" class="t" text-anchor="middle" font-size="10">450</text>
<text x="148.7" y="847.2" class="t" text-anchor="middle" font-size="10">500</text>
<text x="199.35" y="847.2" class="t" text-anchor="middle" font-size="10">550</text>
<text x="250" y="847.2" class="t" text-anchor="middle" font-size="10">600</text>
<text transform="translate(19.6,736.5) rotate(-90)" text-anchor="middle" font-size="13.5">Relative Fluorescence Intensity</text>
<text x="158.5" y="865.2" text-anchor="middle" font-size="13.3">Wavelength (nm)</text>
<text x="133" y="625.5" text-anchor="middle" font-size="13">R120C</text>
<text x="10.6" y="611" font-size="12.6">E</text>
<line x1="331.5" y1="797.3" x2="534.1" y2="797.3" stroke="#bcbcbc" stroke-width="0.9" stroke-dasharray="1.5 1"/>
<line x1="331.5" y1="756.7" x2="534.1" y2="756.7" stroke="#bcbcbc" stroke-width="0.9" stroke-dasharray="1.5 1"/>
<line x1="331.5" y1="716.1" x2="534.1" y2="716.1" stroke="#bcbcbc" stroke-width="0.9" stroke-dasharray="1.5 1"/>
<line x1="331.5" y1="675.5" x2="534.1" y2="675.5" stroke="#bcbcbc" stroke-width="0.9" stroke-dasharray="1.5 1"/>
<line x1="382.15" y1="634.9" x2="382.15" y2="837.9" stroke="#c8c8c8" stroke-width="1"/>
<line x1="432.8" y1="634.9" x2="432.8" y2="837.9" stroke="#c8c8c8" stroke-width="1"/>
<line x1="483.45" y1="634.9" x2="483.45" y2="837.9" stroke="#c8c8c8" stroke-width="1"/>
<path d="M331.5 837.9V634.9H534.1V837.9" fill="none" stroke="#a8a8a8" stroke-width="1"/>
<line x1="331.5" y1="837.9" x2="534.1" y2="837.9" stroke="#777" stroke-width="1" stroke-dasharray="1 0.9"/>
<polyline points="331.5,744.28 341.63,770.5 351.76,784.71 361.89,777.89 372.02,759.38 382.15,739.32 392.28,722.92 402.41,723.9 412.54,733.88 422.67,747.28 432.8,759.05 442.93,770.5 453.06,781.87 463.19,791.86 473.32,799.9 483.45,807.53 493.58,813.3 503.71,816.87 513.84,813.86 523.97,812.32 534.1,805.91" fill="none" stroke="#000000" stroke-width="1.75" stroke-linejoin="round"/>
<circle cx="331.5" cy="744.28" r="1.8" fill="#000000"/>
<circle cx="341.63" cy="770.5" r="1.8" fill="#000000"/>
<circle cx="351.76" cy="784.71" r="1.8" fill="#000000"/>
<circle cx="361.89" cy="777.89" r="1.8" fill="#000000"/>
<circle cx="372.02" cy="759.38" r="1.8" fill="#000000"/>
<circle cx="382.15" cy="739.32" r="1.8" fill="#000000"/>
<circle cx="392.28" cy="722.92" r="1.8" fill="#000000"/>
<circle cx="402.41" cy="723.9" r="1.8" fill="#000000"/>
<circle cx="412.54" cy="733.88" r="1.8" fill="#000000"/>
<circle cx="422.67" cy="747.28" r="1.8" fill="#000000"/>
<circle cx="432.8" cy="759.05" r="1.8" fill="#000000"/>
<circle cx="442.93" cy="770.5" r="1.8" fill="#000000"/>
<circle cx="453.06" cy="781.87" r="1.8" fill="#000000"/>
<circle cx="463.19" cy="791.86" r="1.8" fill="#000000"/>
<circle cx="473.32" cy="799.9" r="1.8" fill="#000000"/>
<circle cx="483.45" cy="807.53" r="1.8" fill="#000000"/>
<circle cx="493.58" cy="813.3" r="1.8" fill="#000000"/>
<circle cx="503.71" cy="816.87" r="1.8" fill="#000000"/>
<circle cx="513.84" cy="813.86" r="1.8" fill="#000000"/>
<circle cx="523.97" cy="812.32" r="1.8" fill="#000000"/>
<circle cx="534.1" cy="805.91" r="1.8" fill="#000000"/>
<polyline points="331.5,688.49 341.63,729.5 351.76,769.53 361.89,764.33 372.02,749.15 382.15,727.31 392.28,712.93 402.41,715.94 412.54,727.87 422.67,741.92 432.8,754.91 442.93,766.44 453.06,778.38 463.19,789.1 473.32,798.68 483.45,805.91 493.58,811.27 503.71,815.33 513.84,813.3 523.97,812.32 534.1,804.28" fill="none" stroke="#d63cd8" stroke-width="1.75" stroke-linejoin="round"/>
<circle cx="331.5" cy="688.49" r="1.8" fill="#d63cd8"/>
<circle cx="341.63" cy="729.5" r="1.8" fill="#d63cd8"/>
<circle cx="351.76" cy="769.53" r="1.8" fill="#d63cd8"/>
<circle cx="361.89" cy="764.33" r="1.8" fill="#d63cd8"/>
<circle cx="372.02" cy="749.15" r="1.8" fill="#d63cd8"/>
<circle cx="382.15" cy="727.31" r="1.8" fill="#d63cd8"/>
<circle cx="392.28" cy="712.93" r="1.8" fill="#d63cd8"/>
<circle cx="402.41" cy="715.94" r="1.8" fill="#d63cd8"/>
<circle cx="412.54" cy="727.87" r="1.8" fill="#d63cd8"/>
<circle cx="422.67" cy="741.92" r="1.8" fill="#d63cd8"/>
<circle cx="432.8" cy="754.91" r="1.8" fill="#d63cd8"/>
<circle cx="442.93" cy="766.44" r="1.8" fill="#d63cd8"/>
<circle cx="453.06" cy="778.38" r="1.8" fill="#d63cd8"/>
<circle cx="463.19" cy="789.1" r="1.8" fill="#d63cd8"/>
<circle cx="473.32" cy="798.68" r="1.8" fill="#d63cd8"/>
<circle cx="483.45" cy="805.91" r="1.8" fill="#d63cd8"/>
<circle cx="493.58" cy="811.27" r="1.8" fill="#d63cd8"/>
<circle cx="503.71" cy="815.33" r="1.8" fill="#d63cd8"/>
<circle cx="513.84" cy="813.3" r="1.8" fill="#d63cd8"/>
<circle cx="523.97" cy="812.32" r="1.8" fill="#d63cd8"/>
<circle cx="534.1" cy="804.28" r="1.8" fill="#d63cd8"/>
<polyline points="331.5,788.94 341.63,814.27 351.76,815.49 361.89,801.93 372.02,782.52 382.15,761.41 392.28,744.93 402.41,743.3 412.54,750.93 422.67,762.14 432.8,773.18 442.93,783.09 453.06,792.92 463.19,801.52 473.32,809.48 483.45,815.89 493.58,820.52 503.71,823.93 513.84,825.88 523.97,827.51 534.1,832.46" fill="none" stroke="#3576f0" stroke-width="1.75" stroke-linejoin="round"/>
<circle cx="331.5" cy="788.94" r="1.8" fill="#3576f0"/>
<circle cx="341.63" cy="814.27" r="1.8" fill="#3576f0"/>
<circle cx="351.76" cy="815.49" r="1.8" fill="#3576f0"/>
<circle cx="361.89" cy="801.93" r="1.8" fill="#3576f0"/>
<circle cx="372.02" cy="782.52" r="1.8" fill="#3576f0"/>
<circle cx="382.15" cy="761.41" r="1.8" fill="#3576f0"/>
<circle cx="392.28" cy="744.93" r="1.8" fill="#3576f0"/>
<circle cx="402.41" cy="743.3" r="1.8" fill="#3576f0"/>
<circle cx="412.54" cy="750.93" r="1.8" fill="#3576f0"/>
<circle cx="422.67" cy="762.14" r="1.8" fill="#3576f0"/>
<circle cx="432.8" cy="773.18" r="1.8" fill="#3576f0"/>
<circle cx="442.93" cy="783.09" r="1.8" fill="#3576f0"/>
<circle cx="453.06" cy="792.92" r="1.8" fill="#3576f0"/>
<circle cx="463.19" cy="801.52" r="1.8" fill="#3576f0"/>
<circle cx="473.32" cy="809.48" r="1.8" fill="#3576f0"/>
<circle cx="483.45" cy="815.89" r="1.8" fill="#3576f0"/>
<circle cx="493.58" cy="820.52" r="1.8" fill="#3576f0"/>
<circle cx="503.71" cy="823.93" r="1.8" fill="#3576f0"/>
<circle cx="513.84" cy="825.88" r="1.8" fill="#3576f0"/>
<circle cx="523.97" cy="827.51" r="1.8" fill="#3576f0"/>
<circle cx="534.1" cy="832.46" r="1.8" fill="#3576f0"/>
<text x="326" y="840.1" class="t" text-anchor="end" font-size="10">0</text>
<text x="326" y="799.5" class="t" text-anchor="end" font-size="10">50</text>
<text x="326" y="758.9" class="t" text-anchor="end" font-size="10">100</text>
<text x="326" y="718.3" class="t" text-anchor="end" font-size="10">150</text>
<text x="326" y="677.7" class="t" text-anchor="end" font-size="10">200</text>
<text x="326" y="637.1" class="t" text-anchor="end" font-size="10">250</text>
<text x="331.5" y="848" class="t" text-anchor="middle" font-size="10">400</text>
<text x="382.15" y="848" class="t" text-anchor="middle" font-size="10">450</text>
<text x="432.8" y="848" class="t" text-anchor="middle" font-size="10">500</text>
<text x="483.45" y="848" class="t" text-anchor="middle" font-size="10">550</text>
<text x="534.1" y="848" class="t" text-anchor="middle" font-size="10">600</text>
<text transform="translate(305,736.5) rotate(-90)" text-anchor="middle" font-size="13.5">Relative Fluorescence Intensity</text>
<text x="444.5" y="866.4" text-anchor="middle" font-size="13.3">Wavelength (nm)</text>
<text x="417.5" y="625" text-anchor="middle" font-size="13">R120G</text>
<text x="298.2" y="610.6" font-size="12.6">F</text>
<rect x="40.7" y="6.6" width="52.2" height="39.4" fill="#fff" stroke="#111" stroke-width="1.3"/>
<line x1="45" y1="15.4" x2="65.2" y2="15.4" stroke="#000000" stroke-width="1.6"/>
<circle cx="55.1" cy="15.4" r="2.0" fill="#000000"/>
<text class="lk" x="66.6" y="19.1" font-size="10" fill="#000000">25°C</text>
<line x1="45" y1="26.0" x2="65.2" y2="26.0" stroke="#d63cd8" stroke-width="1.6"/>
<circle cx="55.1" cy="26.0" r="2.0" fill="#d63cd8"/>
<text class="lp" x="66.6" y="29.9" font-size="10" fill="#d63cd8">50°C</text>
<line x1="45" y1="36.9" x2="65.2" y2="36.9" stroke="#3576f0" stroke-width="1.6"/>
<circle cx="55.1" cy="36.9" r="2.0" fill="#3576f0"/>
<text class="lb" x="66.6" y="40.8" font-size="10" fill="#3576f0">75°C</text>
</svg>
</body></html>
